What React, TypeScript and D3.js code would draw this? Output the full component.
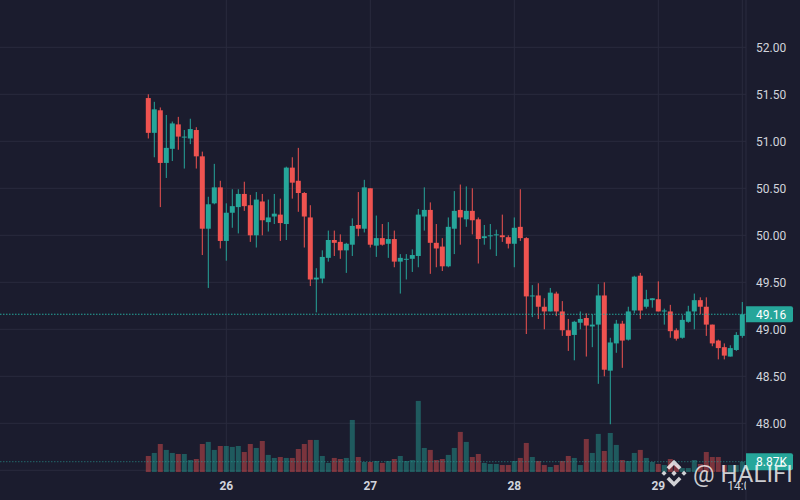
import * as d3 from 'd3'

// hourly candles, first one is 25 Oct 11:00, last 29 Oct 14:00
const opens = [
  51.46, 51.09, 51.33, 50.77, 50.92, 51.18, 51.04, 51.03, 51.12, 50.84,
  50.07, 50.34, 50.51, 49.94, 50.24, 50.30, 50.44, 50.32, 50.00, 50.36,
  50.14, 50.20, 50.22, 50.12, 50.72, 50.58, 50.45, 50.19, 49.53, 49.54,
  49.76, 49.95, 49.93, 49.84, 49.90, 50.11, 50.07, 50.50, 49.89, 49.97,
  49.91, 49.96, 49.72, 49.74, 49.75, 49.78, 50.20, 50.27, 49.92, 49.88,
  49.67, 50.07, 50.27, 50.17, 50.26, 50.17, 49.97, 49.99, 50.00, 50.00,
  49.98, 49.91, 50.09, 49.97, 49.35, 49.36, 49.24, 49.19, 49.38, 49.19,
  48.99, 48.94, 49.07, 49.12, 49.03, 49.05, 49.36, 48.56, 48.85, 49.06,
  48.89, 49.20, 49.57, 49.24, 49.31, 49.32, 49.19, 49.19, 48.99, 48.91,
  49.08, 49.19, 49.31, 49.24, 49.05, 48.88, 48.81, 48.71, 48.78, 48.93
]
const highs = [
  51.50, 51.42, 51.36, 51.28, 51.21, 51.26, 51.12, 51.24, 51.15, 50.89,
  50.41, 50.76, 50.58, 50.34, 50.49, 50.49, 50.57, 50.43, 50.46, 50.44,
  50.38, 50.44, 50.39, 50.73, 50.83, 50.93, 50.46, 50.32, 49.65, 49.84,
  50.05, 50.05, 50.01, 49.92, 50.18, 50.46, 50.59, 50.50, 50.21, 50.12,
  50.14, 50.05, 49.80, 49.80, 49.85, 50.28, 50.51, 50.35, 50.12, 49.97,
  50.19, 50.47, 50.54, 50.52, 50.50, 50.19, 50.11, 50.12, 50.06, 50.22,
  50.00, 50.19, 50.49, 49.98, 49.47, 49.49, 49.33, 49.44, 49.40, 49.30,
  49.11, 49.09, 49.19, 49.17, 49.16, 49.48, 49.50, 48.91, 49.10, 49.09,
  49.24, 49.57, 49.60, 49.42, 49.33, 49.51, 49.22, 49.26, 49.01, 49.15,
  49.25, 49.38, 49.34, 49.34, 49.05, 48.89, 48.85, 48.83, 48.97, 49.29
]
const lows = [
  51.03, 50.83, 50.30, 50.61, 50.79, 50.91, 50.71, 50.97, 50.71, 49.79,
  49.44, 50.33, 49.86, 49.73, 50.08, 50.02, 50.26, 49.93, 49.87, 50.00,
  50.04, 50.12, 49.94, 49.95, 50.39, 50.25, 49.87, 49.46, 49.18, 49.49,
  49.72, 49.78, 49.75, 49.60, 49.78, 49.99, 50.03, 49.87, 49.77, 49.89,
  49.76, 49.66, 49.38, 49.53, 49.61, 49.66, 50.05, 49.59, 49.66, 49.62,
  49.66, 49.80, 49.90, 50.09, 50.01, 49.70, 49.90, 49.85, 49.78, 49.93,
  49.86, 49.66, 49.94, 48.95, 49.13, 49.11, 49.00, 49.19, 49.14, 48.93,
  48.77, 48.67, 49.00, 48.71, 48.81, 48.42, 48.50, 47.99, 48.75, 48.59,
  48.88, 49.17, 49.11, 49.22, 49.23, 49.19, 49.05, 48.91, 48.88, 48.90,
  49.07, 49.00, 49.16, 48.93, 48.82, 48.68, 48.68, 48.71, 48.77, 48.91
]
const closes = [
  51.09, 51.34, 50.77, 50.93, 51.19, 51.05, 51.05, 51.13, 50.84, 50.07,
  50.33, 50.51, 49.94, 50.24, 50.31, 50.44, 50.31, 50.00, 50.38, 50.16,
  50.19, 50.23, 50.13, 50.72, 50.56, 50.45, 50.20, 49.53, 49.55, 49.77,
  49.95, 49.92, 49.84, 49.91, 50.10, 50.07, 50.51, 49.90, 49.97, 49.90,
  49.96, 49.72, 49.76, 49.75, 49.79, 50.22, 50.27, 49.92, 49.86, 49.67,
  50.09, 50.26, 50.19, 50.26, 50.16, 49.96, 49.99, 50.00, 50.01, 49.98,
  49.91, 50.08, 49.97, 49.35, 49.36, 49.24, 49.19, 49.39, 49.19, 48.99,
  48.93, 49.08, 49.11, 49.04, 49.05, 49.36, 48.57, 48.86, 49.06, 48.88,
  49.19, 49.56, 49.20, 49.32, 49.33, 49.19, 49.20, 48.98, 48.90, 49.10,
  49.19, 49.31, 49.24, 49.05, 48.85, 48.80, 48.72, 48.80, 48.94, 49.16
]
// volume in thousands
const volumes = [
  13.8, 16.4, 24.1, 19.0, 16.4, 15.5, 15.5, 10.3, 11.2, 24.1,
  25.9, 19.0, 22.4, 22.4, 21.6, 22.4, 17.2, 24.1, 20.7, 26.7,
  14.7, 12.1, 12.9, 12.1, 12.1, 19.8, 24.1, 27.6, 27.6, 13.8,
  7.8, 12.1, 11.2, 12.1, 44.8, 12.9, 8.6, 8.6, 9.5, 7.8,
  9.5, 11.2, 13.8, 9.5, 10.3, 61.2, 20.7, 19.0, 10.3, 11.2,
  14.7, 20.7, 34.5, 25.9, 12.9, 15.5, 7.8, 6.9, 6.9, 6.0,
  6.0, 9.5, 12.1, 25.0, 12.9, 9.5, 6.0, 4.3, 6.0, 9.5,
  13.8, 12.1, 6.0, 28.4, 16.4, 32.8, 18.1, 33.6, 23.3, 10.3,
  9.5, 16.4, 19.0, 12.1, 8.6, 6.9, 6.0, 11.2, 6.0, 3.4,
  3.4, 10.3, 6.9, 17.2, 12.9, 12.9, 6.0, 6.0, 6.0, 8.87
]

const priceTicks = [47.5, 48, 48.5, 49, 49.5, 50, 50.5, 51, 51.5, 52]
const timeTicks = [
  { index: 13, label: '26', bold: true },
  { index: 37, label: '27', bold: true },
  { index: 61, label: '28', bold: true },
  { index: 85, label: '29', bold: true },
  { index: 99, label: '14:00', bold: false }
]
const lastPrice = 49.16
const lastVolumeLabel = '8.87K'

const W = 800
const H = 500
const BG = '#1b1c2e'
const GRID = '#2a2b3e'
const UP = '#26a69a'
const DOWN = '#ef5350'
const AXIS_X = 746
const PANE_BOTTOM = 472
const FONT = 'Roboto, "Noto Sans", sans-serif'

export default function App() {
  const x = d3.scaleLinear().domain([0, opens.length - 1]).range([148.3, 742.3])
  const y = d3.scaleLinear().domain([48, 52]).range([423.3, 47.3])
  const vy = d3.scaleLinear().domain([0, 60]).range([PANE_BOTTOM, PANE_BOTTOM - 69.7])
  const bodyW = 5

  const candles = d3.range(opens.length).map(i => ({
    i,
    o: opens[i],
    h: highs[i],
    l: lows[i],
    c: closes[i],
    v: volumes[i],
    up: closes[i] >= opens[i]
  }))

  const lastY = y(lastPrice)
  const lastVolY = vy(volumes[volumes.length - 1])

  // binance-style logo in unit coords
  const logoParts = [
    [[0, -1], [0.55, -0.45], [0.36, -0.26], [0, -0.62], [-0.36, -0.26], [-0.55, -0.45]],
    [[0, 1], [0.55, 0.45], [0.36, 0.26], [0, 0.62], [-0.36, 0.26], [-0.55, 0.45]],
    [[-0.93, 0], [-0.74, -0.19], [-0.55, 0], [-0.74, 0.19]],
    [[0.93, 0], [0.74, -0.19], [0.55, 0], [0.74, 0.19]],
    [[0, -0.2], [0.2, 0], [0, 0.2], [-0.2, 0]]
  ]
  const logoLine = d3.line().curve(d3.curveLinearClosed)

  return (
    <svg
      width={W}
      height={H}
      style={{ position: 'fixed', left: 0, top: 0, background: BG, fontFamily: FONT }}
    >
      <rect x={0} y={0} width={W} height={H} fill={BG} />

      {/* grid */}
      {priceTicks.map(t => (
        <line key={'hg' + t} x1={0} x2={AXIS_X} y1={y(t)} y2={y(t)} stroke={GRID} strokeWidth={1} />
      ))}
      {timeTicks.map(t => (
        <line key={'vg' + t.label} x1={x(t.index)} x2={x(t.index)} y1={0} y2={PANE_BOTTOM} stroke={GRID} strokeWidth={1} />
      ))}
      <line x1={AXIS_X} x2={AXIS_X} y1={0} y2={H} stroke={GRID} strokeWidth={1} />

      {/* volume */}
      {candles.map(d => (
        <rect
          key={'v' + d.i}
          x={x(d.i) - bodyW / 2}
          y={vy(d.v)}
          width={bodyW}
          height={PANE_BOTTOM - vy(d.v)}
          fill={d.up ? UP : DOWN}
          fillOpacity={0.45}
        />
      ))}
      <line
        x1={0}
        x2={AXIS_X}
        y1={lastVolY}
        y2={lastVolY}
        stroke={UP}
        strokeOpacity={0.55}
        strokeDasharray="1.5 1.5"
      />

      {/* candles */}
      {candles.map(d => {
        const top = y(Math.max(d.o, d.c))
        const bot = y(Math.min(d.o, d.c))
        const col = d.up ? UP : DOWN
        return (
          <g key={'c' + d.i}>
            <line x1={x(d.i)} x2={x(d.i)} y1={y(d.h)} y2={y(d.l)} stroke={col} strokeWidth={1} />
            <rect x={x(d.i) - bodyW / 2} y={top} width={bodyW} height={Math.max(1, bot - top)} fill={col} />
          </g>
        )
      })}

      <line
        x1={0}
        x2={AXIS_X}
        y1={lastY}
        y2={lastY}
        stroke={UP}
        strokeWidth={1}
        strokeDasharray="1.5 1.5"
      />

      {/* price axis */}
      {priceTicks.filter(t => t >= 48).map(t => (
        <text key={'pl' + t} x={756} y={y(t) + 4.3} fontSize={12} fill="#d1d4dc">
          {d3.format('.2f')(t)}
        </text>
      ))}
      <path
        d={`M${AXIS_X},${lastY - 8} H${791} a2,2 0 0 1 2,2 V${lastY + 6} a2,2 0 0 1 -2,2 H${AXIS_X} Z`}
        fill={UP}
      />
      <text x={756} y={lastY + 4.3} fontSize={12} fill="#ffffff">
        {d3.format('.2f')(lastPrice)}
      </text>
      <path
        d={`M${AXIS_X},${lastVolY - 8.5} H${791} a2,2 0 0 1 2,2 V${lastVolY + 6.5} a2,2 0 0 1 -2,2 H${AXIS_X} Z`}
        fill={UP}
      />
      <text x={756} y={lastVolY + 4.3} fontSize={12} fill="#ffffff">
        {lastVolumeLabel}
      </text>

      {/* time axis */}
      <clipPath id="timeClip">
        <rect x={0} y={PANE_BOTTOM} width={AXIS_X} height={H - PANE_BOTTOM} />
      </clipPath>
      <g clipPath="url(#timeClip)">
        {timeTicks.map(t => (
          <text
            key={'tl' + t.label}
            x={x(t.index)}
            y={489.5}
            fontSize={12}
            fontWeight={t.bold ? 'bold' : 'normal'}
            textAnchor="middle"
            fill="#d1d4dc"
          >
            {t.label}
          </text>
        ))}
      </g>

      {/* watermark */}
      <g transform="translate(674,473.3) scale(13.5)" fill="#ffffff" fillOpacity={0.8}>
        {logoParts.map((p, k) => (
          <path key={'lg' + k} d={logoLine(p as [number, number][]) || ''} />
        ))}
      </g>
      <text x={693} y={482} fontSize={24} fill="#ffffff" fillOpacity={0.78}>
        @ HALIFI
      </text>
    </svg>
  )
}
